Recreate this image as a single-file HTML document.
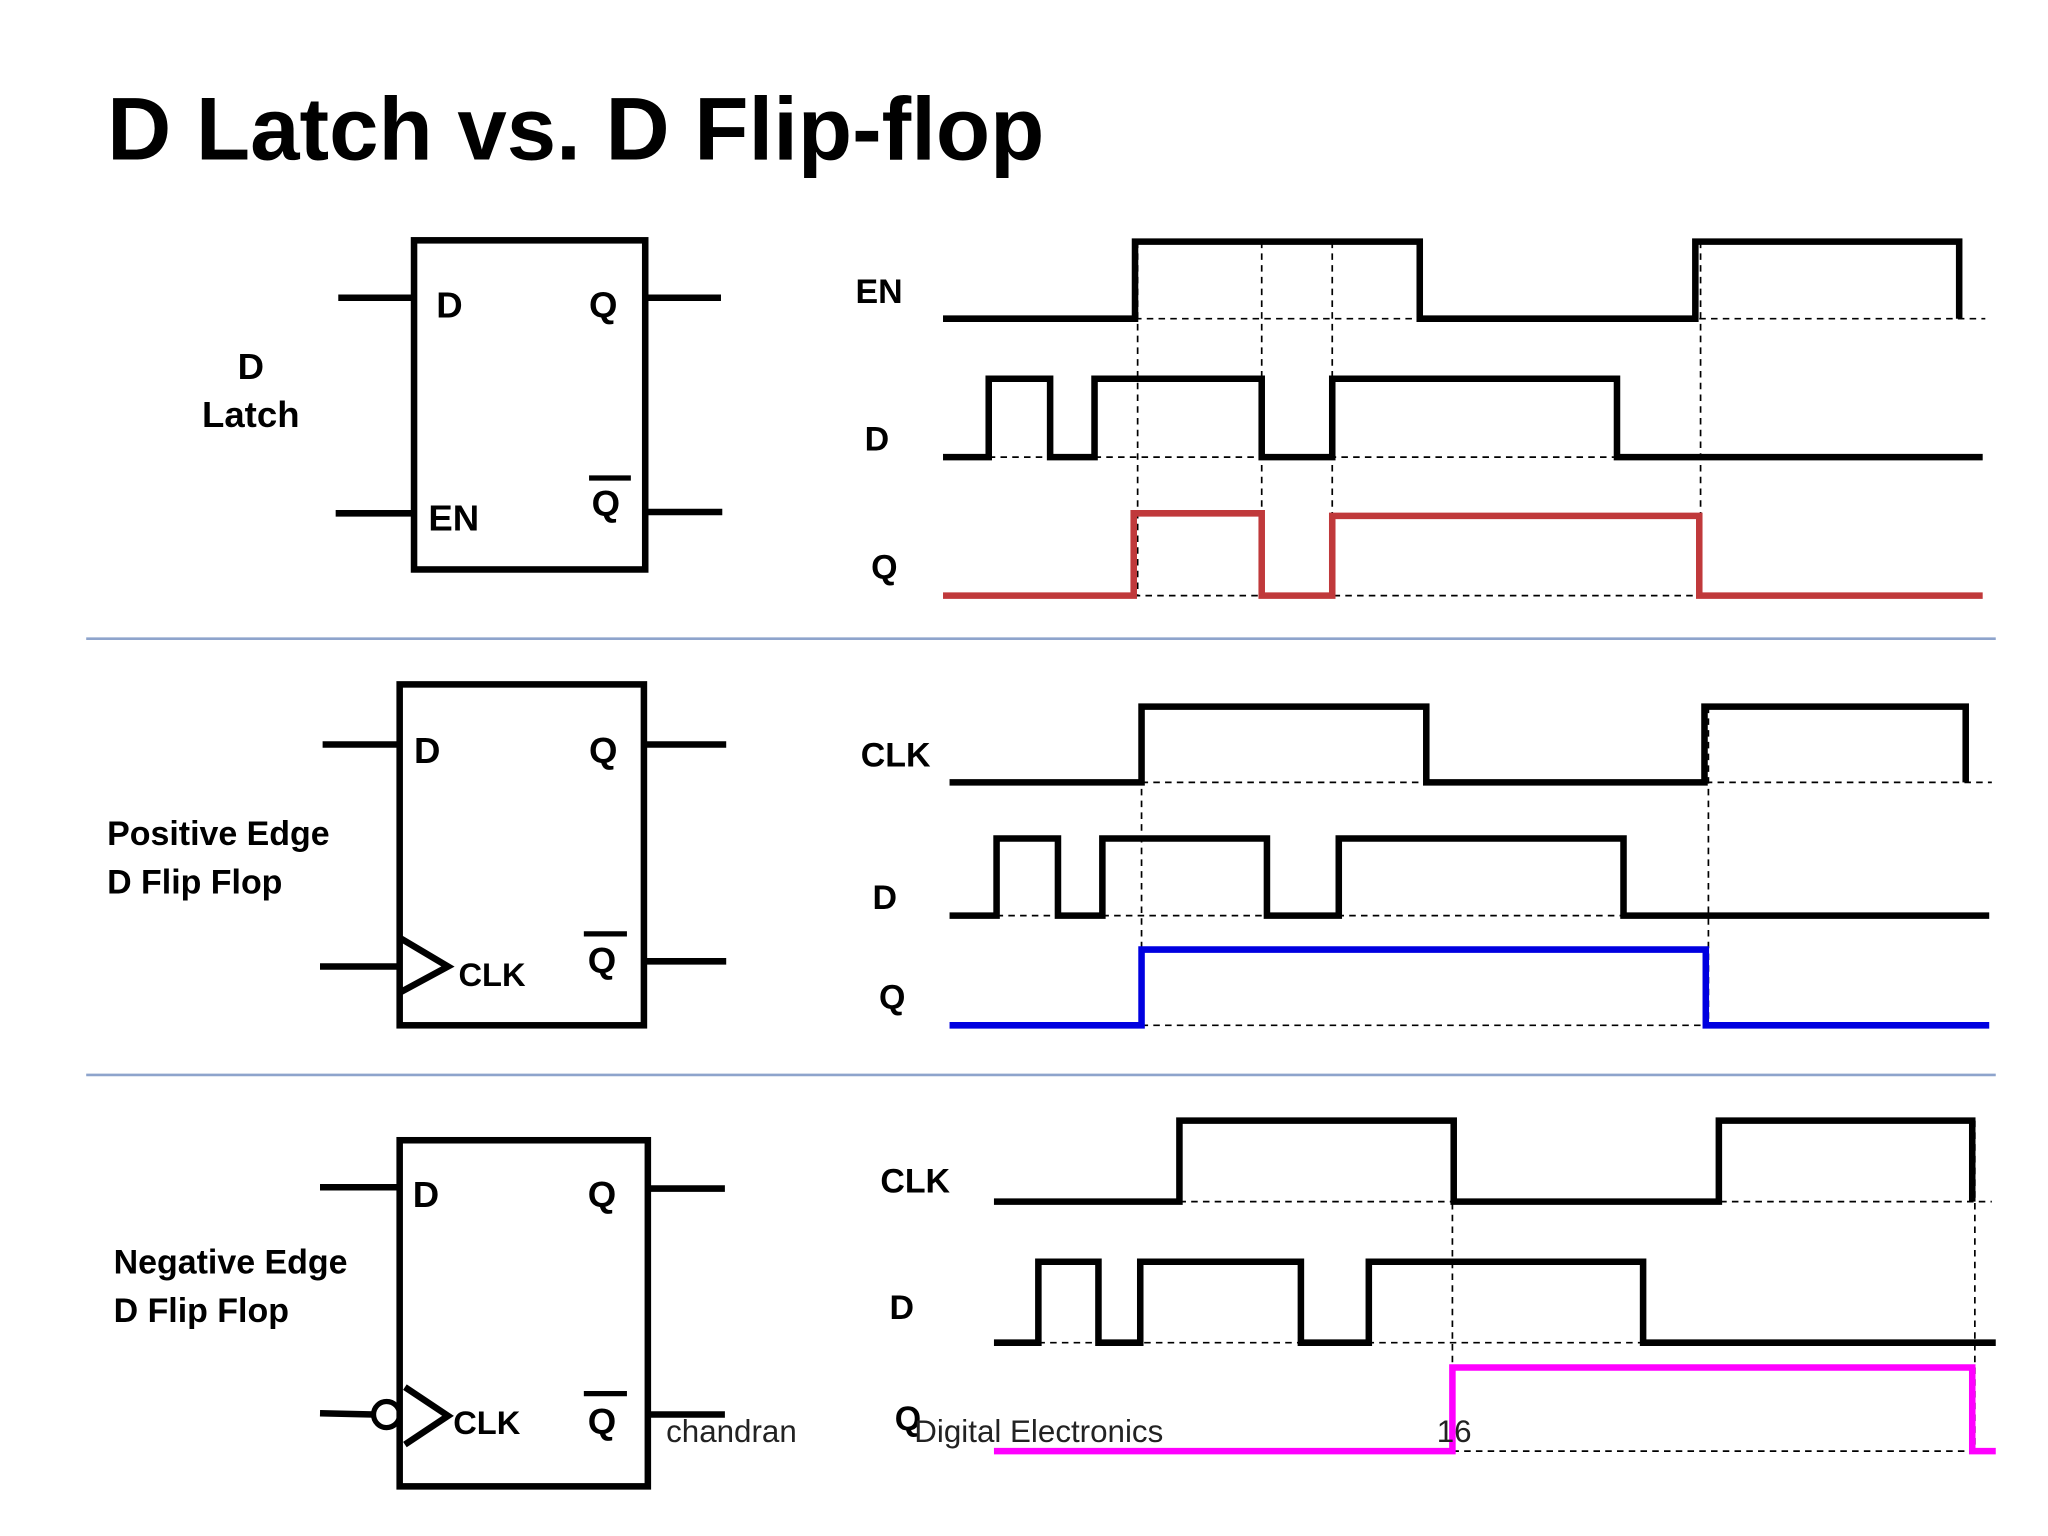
<!DOCTYPE html>
<html><head><meta charset="utf-8"><style>
html,body{margin:0;padding:0;background:#fff;}
svg{display:block;}
text{font-family:"Liberation Sans",sans-serif;}
.b{font-weight:bold;fill:#000;}
.w{fill:none;stroke:#000;stroke-width:5;}
.d{fill:none;stroke:#000;stroke-width:1.3;stroke-dasharray:5,4;}
</style></head><body>
<svg width="2048" height="1536" viewBox="0 0 1568 1176" xmlns="http://www.w3.org/2000/svg">
<text x="82" y="122" class="b" font-size="68">D Latch vs. D Flip-flop</text>

<!-- Section 1 -->
<rect x="317" y="184" width="177" height="252" class="w"/>
<path class="w" d="M259 228H317M257 393H317M494 228H552M494 392H553"/>
<text x="334" y="243" class="b" font-size="28">D</text>
<text x="451" y="243" class="b" font-size="28">Q</text>
<text x="328" y="406" class="b" font-size="28">EN</text>
<text x="453" y="395" class="b" font-size="28">Q</text>
<path d="M451 366H483" stroke="#000" stroke-width="4"/>
<text x="192" y="290" class="b" font-size="28" text-anchor="middle">D</text>
<text x="192" y="327" class="b" font-size="28" text-anchor="middle">Latch</text>

<text x="655" y="232" class="b" font-size="26">EN</text>
<text x="662" y="345" class="b" font-size="26">D</text>
<text x="667" y="443" class="b" font-size="26">Q</text>
<path class="d" d="M869 244H1520M757 350H1238M868 456H1301M871 185V456M966 185V456M1020 185V456M1302 185V456"/>
<path class="w" d="M722 244H869V185H1087V244H1298V185H1500V244"/>
<path class="w" d="M722 350H757V290H804V350H838V290H966V350H1020V290H1238V350H1518"/>
<path fill="none" stroke="#c0393b" stroke-width="5" d="M722 456H868V393H966V456H1020V395H1301V456H1518"/>

<path d="M66 489H1528" stroke="#8ea4cc" stroke-width="2"/>

<!-- Section 2 -->
<rect x="306" y="524" width="187" height="261" class="w"/>
<path class="w" d="M247 570H306M493 570H556M245 740H306M493 736H556"/>
<path class="w" d="M306 718L343 740L306 760"/>
<text x="317" y="584" class="b" font-size="28">D</text>
<text x="451" y="584" class="b" font-size="28">Q</text>
<text x="351" y="755" class="b" font-size="25">CLK</text>
<text x="450" y="745" class="b" font-size="28">Q</text>
<path d="M447 715H480" stroke="#000" stroke-width="4"/>
<text x="82" y="647" class="b" font-size="26">Positive Edge</text>
<text x="82" y="684" class="b" font-size="26">D Flip Flop</text>

<text x="659" y="587" class="b" font-size="26">CLK</text>
<text x="668" y="696" class="b" font-size="26">D</text>
<text x="673" y="772" class="b" font-size="26">Q</text>
<path class="d" d="M874 599H1525M763 701H1243M874 785H1306M874 541V785M1308 541V785"/>
<path class="w" d="M727 599H874V541H1092V599H1305V541H1505V599"/>
<path class="w" d="M727 701H763V642H810V701H844V642H970V701H1025V642H1243V701H1523"/>
<path fill="none" stroke="#0000e0" stroke-width="5" d="M727 785H874V727H1306V785H1523"/>

<path d="M66 823H1528" stroke="#8ea4cc" stroke-width="2"/>

<!-- Section 3 -->
<rect x="306" y="873" width="190" height="265" class="w"/>
<path class="w" d="M245 909H306M496 910H555M245 1082L286 1083M496 1083H555"/>
<path class="w" d="M310 1062L343 1084L310 1106"/>
<circle cx="296" cy="1083" r="10" fill="none" stroke="#000" stroke-width="4"/>
<text x="316" y="924" class="b" font-size="28">D</text>
<text x="450" y="924" class="b" font-size="28">Q</text>
<text x="347" y="1098" class="b" font-size="25">CLK</text>
<text x="450" y="1098" class="b" font-size="28">Q</text>
<path d="M447 1067H480" stroke="#000" stroke-width="4"/>
<text x="87" y="975" class="b" font-size="26">Negative Edge</text>
<text x="87" y="1012" class="b" font-size="26">D Flip Flop</text>

<text x="674" y="913" class="b" font-size="26">CLK</text>
<text x="681" y="1010" class="b" font-size="26">D</text>
<text x="685" y="1095" class="b" font-size="26">Q</text>
<path class="d" d="M903 920H1525M795 1028H1258M1112 1111H1510M1112 858V1111M1512 858V1111"/>
<path class="w" d="M761 920H903V858H1113V920H1316V858H1510V920"/>
<path class="w" d="M761 1028H795V966H841V1028H873V966H996V1028H1048V966H1258V1028H1528"/>
<path fill="none" stroke="#ff00ff" stroke-width="5" d="M761 1111H1112V1047H1510V1111H1528"/>

<text x="510" y="1104" font-size="24" fill="#222">chandran</text>
<text x="700" y="1104" font-size="24" fill="#222">Digital Electronics</text>
<text x="1100" y="1104" font-size="24" fill="#222">16</text>
</svg>
</body></html>
